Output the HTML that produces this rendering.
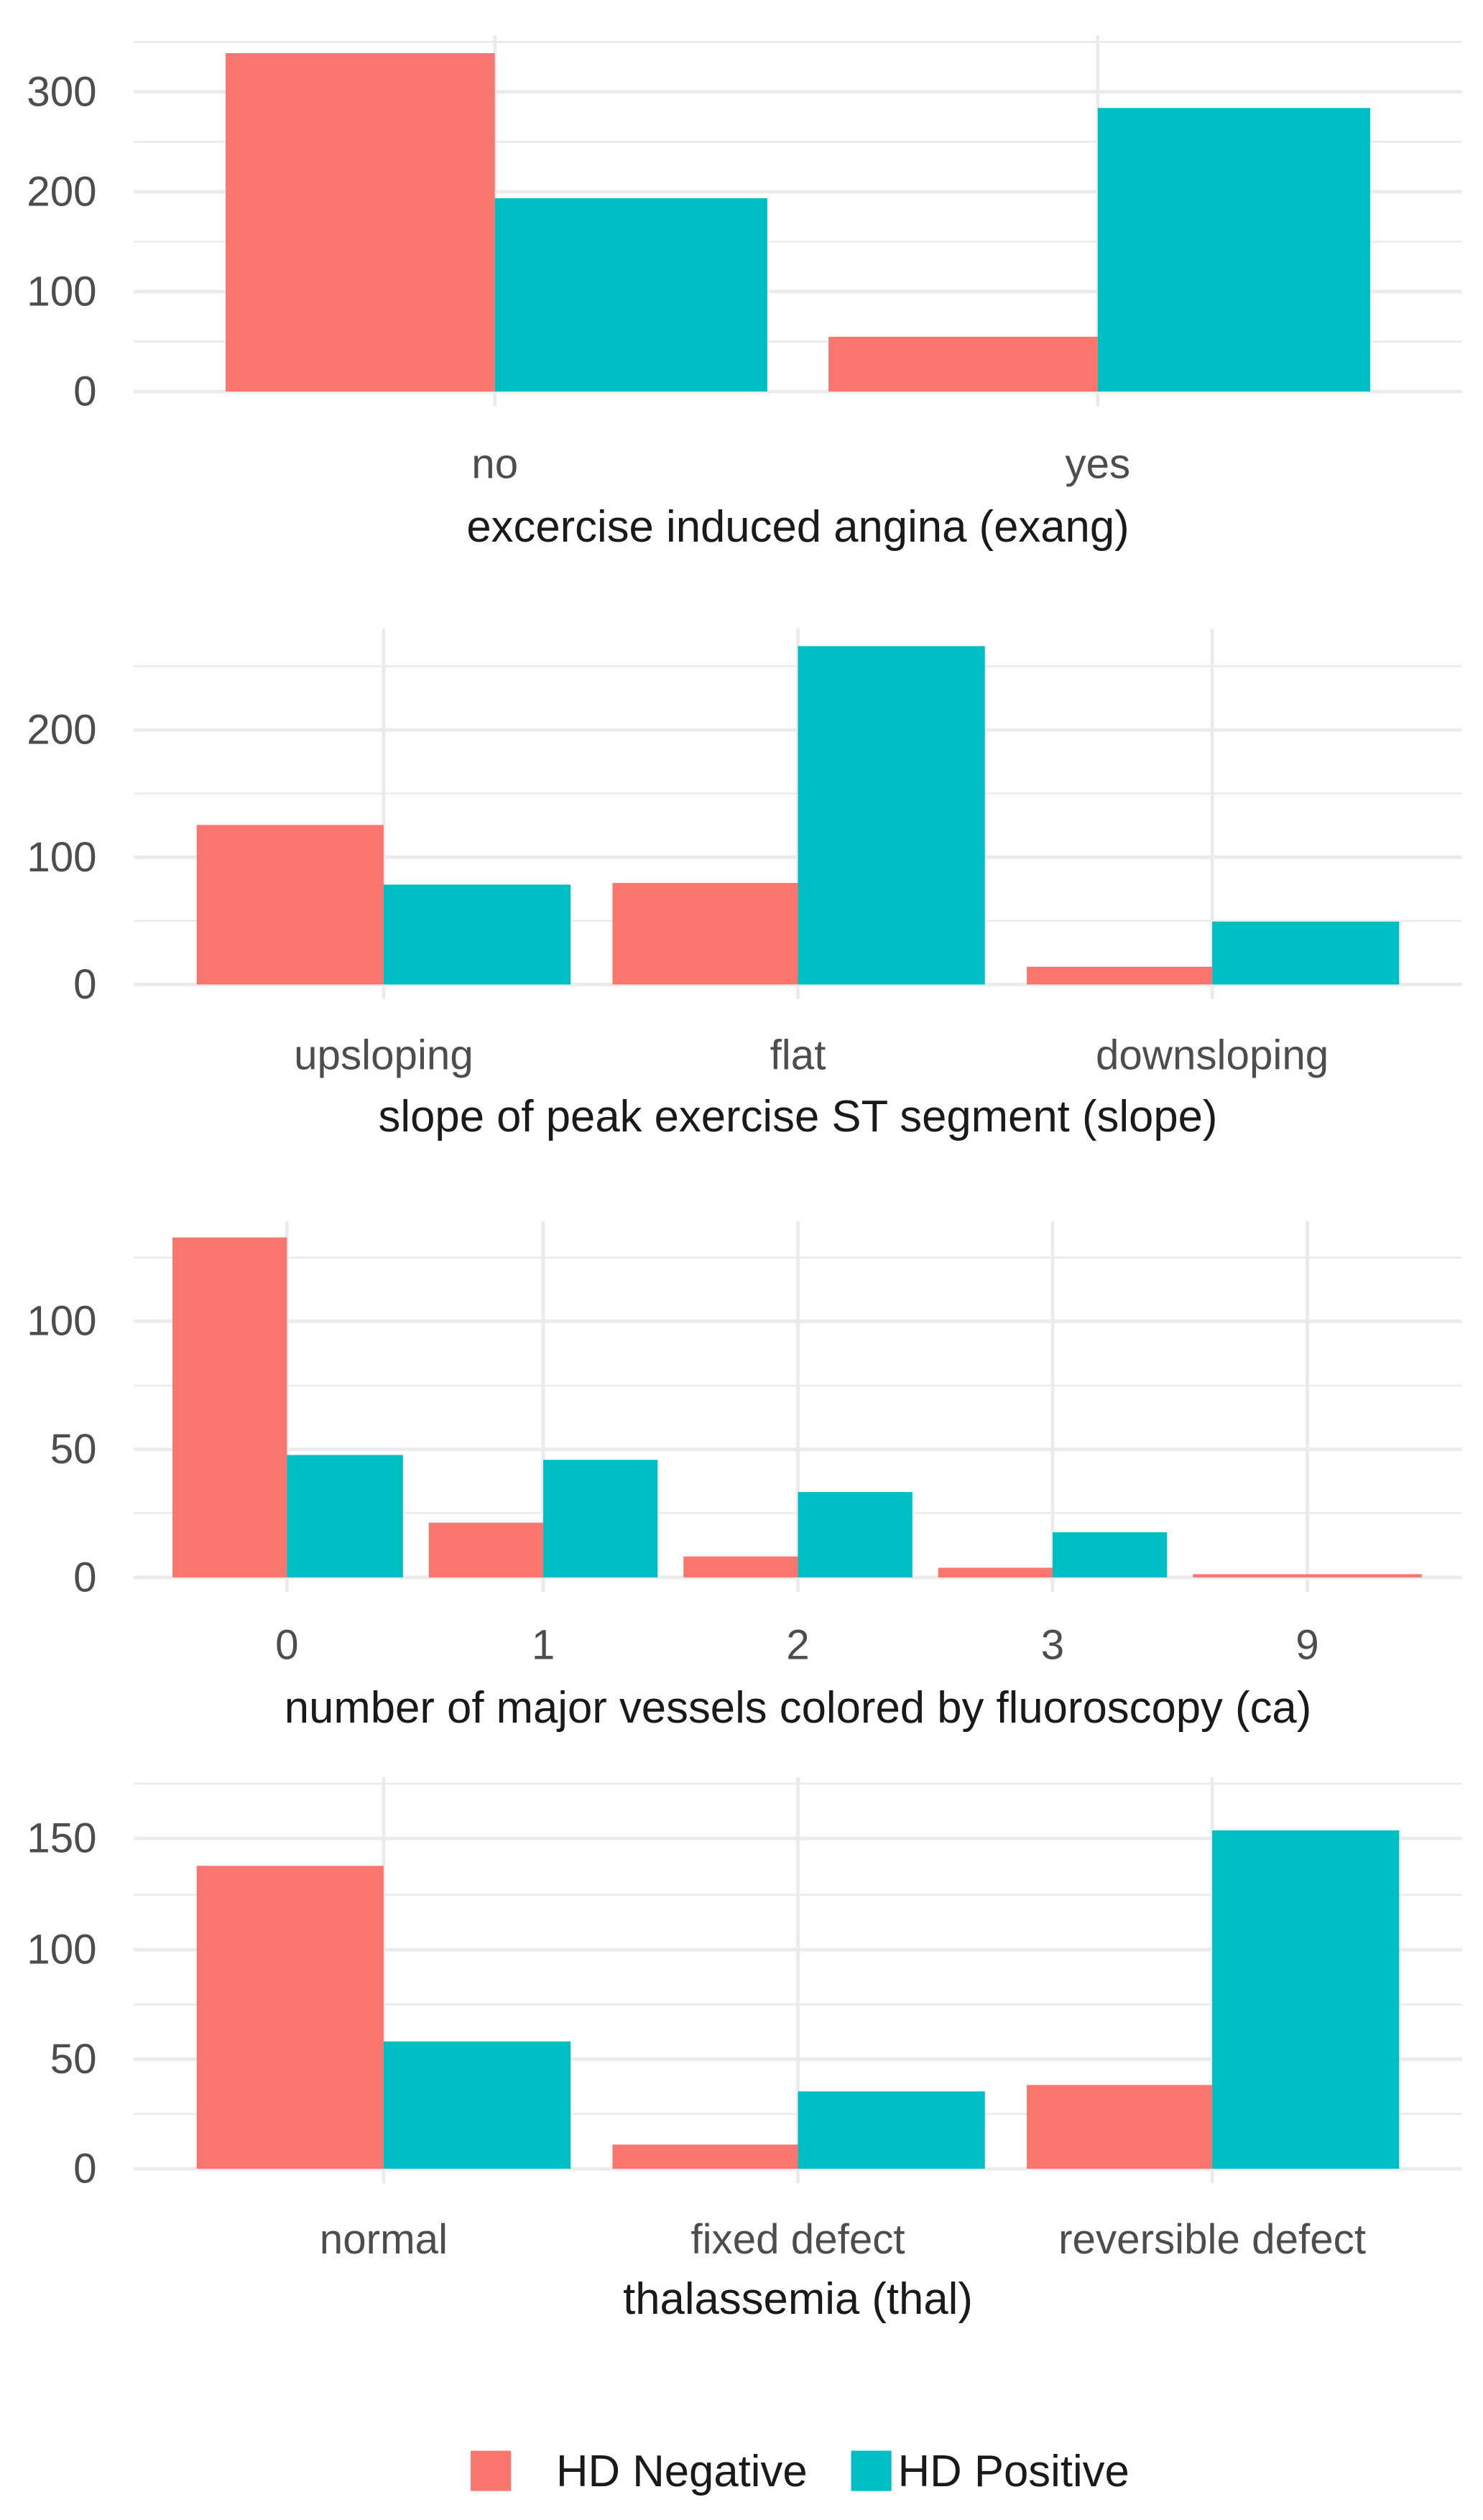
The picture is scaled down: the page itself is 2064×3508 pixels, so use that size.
<!DOCTYPE html>
<html><head><style>html,body{margin:0;padding:0;background:#fff}svg{display:block}</style></head>
<body>
<svg width="2064" height="3508" viewBox="0 0 920 1564" preserveAspectRatio="none" xmlns="http://www.w3.org/2000/svg" font-family="Liberation Sans, sans-serif">
<g stroke="#ebebeb" fill="none">
<g stroke-width="1.2"><line x1="83" x2="907" y1="26" y2="26"/><line x1="83" x2="907" y1="88" y2="88"/><line x1="83" x2="907" y1="150" y2="150"/><line x1="83" x2="907" y1="212" y2="212"/></g>
<g stroke-width="2.2"><line x1="83" x2="907" y1="57" y2="57"/><line x1="83" x2="907" y1="119" y2="119"/><line x1="83" x2="907" y1="181" y2="181"/><line x1="83" x2="907" y1="243" y2="243"/><line x1="307" x2="307" y1="22" y2="252"/><line x1="681" x2="681" y1="22" y2="252"/></g>
<g stroke-width="1.2"><line x1="83" x2="907" y1="413.5" y2="413.5"/><line x1="83" x2="907" y1="492.5" y2="492.5"/><line x1="83" x2="907" y1="571.5" y2="571.5"/></g>
<g stroke-width="2.2"><line x1="83" x2="907" y1="453" y2="453"/><line x1="83" x2="907" y1="532" y2="532"/><line x1="83" x2="907" y1="611" y2="611"/><line x1="238" x2="238" y1="390" y2="620"/><line x1="495" x2="495" y1="390" y2="620"/><line x1="752" x2="752" y1="390" y2="620"/></g>
<g stroke-width="1.2"><line x1="83" x2="907" y1="780.5" y2="780.5"/><line x1="83" x2="907" y1="860" y2="860"/><line x1="83" x2="907" y1="939" y2="939"/></g>
<g stroke-width="2.2"><line x1="83" x2="907" y1="820" y2="820"/><line x1="83" x2="907" y1="899.5" y2="899.5"/><line x1="83" x2="907" y1="979" y2="979"/><line x1="178" x2="178" y1="758" y2="988"/><line x1="337" x2="337" y1="758" y2="988"/><line x1="495" x2="495" y1="758" y2="988"/><line x1="653" x2="653" y1="758" y2="988"/><line x1="811" x2="811" y1="758" y2="988"/></g>
<g stroke-width="1.2"><line x1="83" x2="907" y1="1107" y2="1107"/><line x1="83" x2="907" y1="1176" y2="1176"/><line x1="83" x2="907" y1="1244" y2="1244"/><line x1="83" x2="907" y1="1312" y2="1312"/></g>
<g stroke-width="2.2"><line x1="83" x2="907" y1="1141" y2="1141"/><line x1="83" x2="907" y1="1210" y2="1210"/><line x1="83" x2="907" y1="1278" y2="1278"/><line x1="83" x2="907" y1="1346" y2="1346"/><line x1="238" x2="238" y1="1103" y2="1355"/><line x1="495" x2="495" y1="1103" y2="1355"/><line x1="752" x2="752" y1="1103" y2="1355"/></g>
</g>
<g fill="#F8766D">
<rect x="140" y="33" width="167" height="210"/><rect x="514" y="209" width="167" height="34"/>
<rect x="122" y="512" width="116" height="99"/><rect x="380" y="548" width="115" height="63"/><rect x="637" y="600" width="115" height="11"/>
<rect x="107" y="768" width="71" height="211"/><rect x="266" y="945" width="71" height="34"/><rect x="424" y="966" width="71" height="13"/><rect x="582" y="973" width="71" height="6"/><rect x="740" y="977" width="142" height="2"/>
<rect x="122" y="1158" width="116" height="188"/><rect x="380" y="1331" width="115" height="15"/><rect x="637" y="1294" width="115" height="52"/>
</g>
<g fill="#00BFC4">
<rect x="307" y="123" width="169" height="120"/><rect x="681" y="67" width="169" height="176"/>
<rect x="238" y="549" width="116" height="62"/><rect x="495" y="401" width="116" height="210"/><rect x="752" y="572" width="116" height="39"/>
<rect x="178" y="903" width="72" height="76"/><rect x="337" y="906" width="71" height="73"/><rect x="495" y="926" width="71" height="53"/><rect x="653" y="951" width="71" height="28"/>
<rect x="238" y="1267" width="116" height="79"/><rect x="495" y="1298" width="116" height="48"/><rect x="752" y="1136" width="116" height="210"/>
</g>
<g fill="#4d4d4d" font-size="26" text-anchor="end" dominant-baseline="central">
<text x="60" y="57">300</text><text x="60" y="119">200</text><text x="60" y="181">100</text><text x="60" y="243">0</text>
<text x="60" y="453">200</text><text x="60" y="532">100</text><text x="60" y="611">0</text>
<text x="60" y="820">100</text><text x="60" y="899.5">50</text><text x="60" y="979">0</text>
<text x="60" y="1141">150</text><text x="60" y="1210">100</text><text x="60" y="1278">50</text><text x="60" y="1346">0</text>
</g>
<g fill="#4d4d4d" font-size="26" text-anchor="middle" dominant-baseline="central">
<text x="307" y="288">no</text><text x="681" y="288">yes</text>
<text x="238" y="655">upsloping</text><text x="495" y="655">flat</text><text x="752" y="655">downsloping</text>
<text x="178" y="1021">0</text><text x="337" y="1021">1</text><text x="495" y="1021">2</text><text x="653" y="1021">3</text><text x="811" y="1021">9</text>
<text x="238" y="1390">normal</text><text x="495" y="1390">fixed defect</text><text x="752" y="1390">reversible defect</text>
</g>
<g fill="#1a1a1a" font-size="27.5" text-anchor="middle" dominant-baseline="central">
<text x="495" y="327">excercise induced angina (exang)</text>
<text x="495" y="693">slope of peak exercise ST segment (slope)</text>
<text x="495" y="1060">number of major vessels colored by fluoroscopy (ca)</text>
<text x="495" y="1427">thalassemia (thal)</text>
</g>
<rect x="292" y="1521" width="25" height="25" fill="#F8766D"/>
<rect x="528" y="1521" width="25" height="25" fill="#00BFC4"/>
<g fill="#1a1a1a" font-size="27.5" dominant-baseline="central">
<text x="345" y="1534">HD Negative</text><text x="557" y="1534">HD Positive</text>
</g>
</svg>
</body></html>
